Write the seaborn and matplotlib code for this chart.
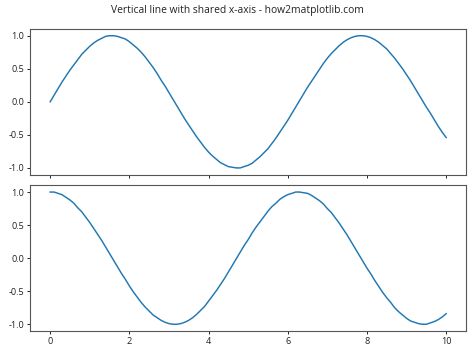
import matplotlib
matplotlib.use("Agg")
import matplotlib.pyplot as plt
import seaborn as sns
import pandas as pd

x_vals = [0.0, 0.1, 0.2, 0.3, 0.4, 0.5, 0.6, 0.7, 0.8, 0.9,
          1.0, 1.1, 1.2, 1.3, 1.4, 1.5, 1.6, 1.7, 1.8, 1.9,
          2.0, 2.1, 2.2, 2.3, 2.4, 2.5, 2.6, 2.7, 2.8, 2.9,
          3.0, 3.1, 3.2, 3.3, 3.4, 3.5, 3.6, 3.7, 3.8, 3.9,
          4.0, 4.1, 4.2, 4.3, 4.4, 4.5, 4.6, 4.7, 4.8, 4.9,
          5.0, 5.1, 5.2, 5.3, 5.4, 5.5, 5.6, 5.7, 5.8, 5.9,
          6.0, 6.1, 6.2, 6.3, 6.4, 6.5, 6.6, 6.7, 6.8, 6.9,
          7.0, 7.1, 7.2, 7.3, 7.4, 7.5, 7.6, 7.7, 7.8, 7.9,
          8.0, 8.1, 8.2, 8.3, 8.4, 8.5, 8.6, 8.7, 8.8, 8.9,
          9.0, 9.1, 9.2, 9.3, 9.4, 9.5, 9.6, 9.7, 9.8, 9.9,
          10.0]
sin_vals = [0.00, 0.10, 0.20, 0.30, 0.39, 0.48, 0.56, 0.64, 0.72, 0.78,
            0.84, 0.89, 0.93, 0.96, 0.99, 1.00, 1.00, 0.99, 0.97, 0.95,
            0.91, 0.86, 0.81, 0.75, 0.68, 0.60, 0.52, 0.43, 0.33, 0.24,
            0.14, 0.04, -0.06, -0.16, -0.26, -0.35, -0.44, -0.53, -0.61, -0.69,
            -0.76, -0.82, -0.87, -0.92, -0.95, -0.98, -0.99, -1.00, -1.00, -0.98,
            -0.96, -0.93, -0.88, -0.83, -0.77, -0.71, -0.63, -0.55, -0.46, -0.37,
            -0.28, -0.18, -0.08, 0.02, 0.12, 0.22, 0.31, 0.40, 0.49, 0.58,
            0.66, 0.73, 0.79, 0.85, 0.90, 0.94, 0.97, 0.99, 1.00, 1.00,
            0.99, 0.97, 0.94, 0.90, 0.85, 0.80, 0.73, 0.66, 0.58, 0.50,
            0.41, 0.32, 0.22, 0.12, 0.02, -0.08, -0.17, -0.27, -0.37, -0.46,
            -0.54]
cos_vals = [1.00, 1.00, 0.98, 0.96, 0.92, 0.88, 0.83, 0.76, 0.70, 0.62,
            0.54, 0.45, 0.36, 0.27, 0.17, 0.07, -0.03, -0.13, -0.23, -0.32,
            -0.42, -0.51, -0.59, -0.67, -0.74, -0.80, -0.86, -0.90, -0.94, -0.97,
            -0.99, -1.00, -1.00, -0.99, -0.97, -0.94, -0.90, -0.85, -0.79, -0.73,
            -0.65, -0.57, -0.49, -0.40, -0.31, -0.21, -0.11, -0.01, 0.09, 0.19,
            0.28, 0.38, 0.47, 0.55, 0.63, 0.71, 0.78, 0.83, 0.89, 0.93,
            0.96, 0.98, 1.00, 1.00, 0.99, 0.98, 0.95, 0.91, 0.87, 0.82,
            0.75, 0.69, 0.61, 0.53, 0.44, 0.35, 0.25, 0.15, 0.05, -0.05,
            -0.15, -0.24, -0.34, -0.43, -0.52, -0.60, -0.67, -0.75, -0.81, -0.86,
            -0.91, -0.95, -0.97, -0.99, -1.00, -1.00, -0.98, -0.96, -0.93, -0.89,
            -0.84]
x_ticks = [0, 2, 4, 6, 8, 10]
y_ticks = [-1.0, -0.5, 0.0, 0.5, 1.0]
title = "Vertical line with shared x-axis - how2matplotlib.com"

plt.rcParams['font.family'] = ['Open Sans', 'DejaVu Sans']

df = pd.DataFrame({"x": x_vals, "sin": sin_vals, "cos": cos_vals})

fig, (ax1, ax2) = plt.subplots(2, 1, sharex=True, figsize=(4.74, 3.55), dpi=100)
fig.subplots_adjust(left=0.064, right=0.983, top=0.918, bottom=0.068, hspace=0.075)

sns.lineplot(data=df, x="x", y="sin", ax=ax1, color="#1f77b4", linewidth=1.05)
sns.lineplot(data=df, x="x", y="cos", ax=ax2, color="#1f77b4", linewidth=1.05)

for ax in (ax1, ax2):
    ax.set_xlabel("")
    ax.set_ylabel("")
    ax.set_yticks(y_ticks)
    ax.set_yticklabels([f"{v:.1f}" for v in y_ticks])
    ax.tick_params(labelsize=6.6, length=2.5, width=0.7, colors="#222222", pad=2)
    for s in ax.spines.values():
        s.set_color("#555555")
        s.set_linewidth(0.8)
ax2.set_xticks(x_ticks)
ax2.set_xticklabels([str(t) for t in x_ticks])
ax1.tick_params(labelbottom=False)

fig.suptitle(title, fontsize=7.4, y=0.985, color="#222222")

fig.savefig("out.png", dpi=100)
